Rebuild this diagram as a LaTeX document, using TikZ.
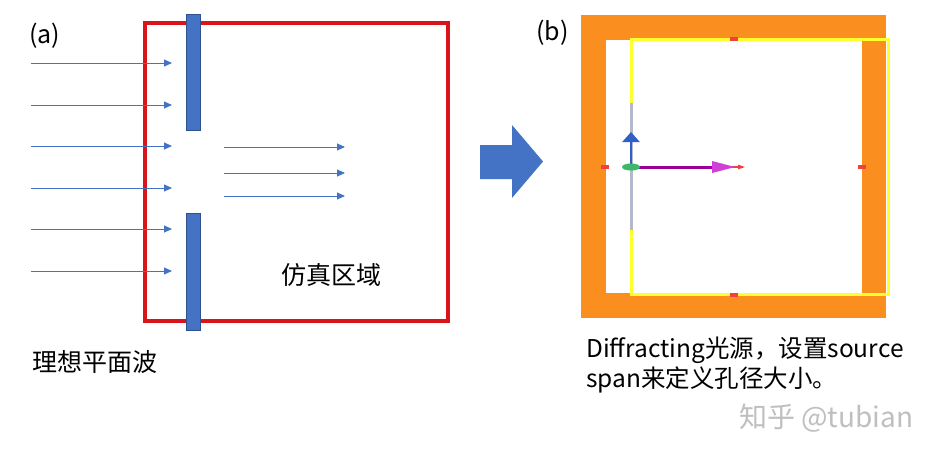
\documentclass[tikz,border=0pt]{standalone}
\usepackage{fontspec}
\setmainfont{Noto Sans CJK SC}
\usetikzlibrary{arrows.meta,shapes.geometric}
\definecolor{wblue}{HTML}{4472C4}
\definecolor{bardark}{HTML}{2F528F}
\definecolor{bred}{HTML}{D9141B}
\definecolor{orng}{HTML}{FA8E1E}
\definecolor{ylw}{HTML}{FFFF30}
\definecolor{gbar}{HTML}{B4B8CC}
\definecolor{pur}{HTML}{990099}
\definecolor{purh}{HTML}{D040D8}
\definecolor{ablue}{HTML}{2F5FC8}
\definecolor{grn}{HTML}{3CB86A}
\definecolor{mk}{HTML}{F04040}
\tikzset{
  wave/.style={wblue, line width=0.9pt, -{Triangle[length=8pt,width=7pt]}},
  slitbar/.style={fill=wblue, draw=bardark, line width=0.8pt},
  lbl/.style={inner sep=0pt, anchor=west, font=\fontsize{24.5}{29}\selectfont},
  tickmark/.style={fill=mk, draw=none, minimum width=8pt, minimum height=4pt, inner sep=0pt}
}
\begin{document}
\begin{tikzpicture}[x=1pt,y=-1pt]
\useasboundingbox[fill=white] (0,0) rectangle (938,456);

% ---------- panel (a) ----------
\node[lbl, font=\fontsize{25}{29}\selectfont] (la) at (29,36) {(a)};
\draw[bred, line width=3.5pt] (145,23) rectangle (448,321);
\node[slitbar, minimum width=14pt, minimum height=116pt, inner sep=0pt] (bartop) at (193,72) {};
\node[slitbar, minimum width=14pt, minimum height=117pt, inner sep=0pt] (barbot) at (193,271.5) {};
\foreach \y [count=\i] in {63,105,146,188,229,271} {
  \coordinate (s\i) at (31,\y);
  \coordinate (e\i) at (172,\y);
  \draw[wave] (s\i) -- (e\i);
}
\foreach \y [count=\i] in {147,173,196} {
  \coordinate (o\i) at (224,\y);
  \coordinate (p\i) at (345,\y);
  \draw[wave] (o\i) -- (p\i);
}
\node[lbl, font=\fontsize{25}{29}\selectfont] (sim) at (281,275) {仿真区域};
\node[lbl, font=\fontsize{25}{29}\selectfont] (pw) at (32,362) {理想平面波};

% ---------- big arrow ----------
\fill[wblue] (480,145) -- (512,145) -- (512,125) -- (543,161.5) -- (512,198) -- (512,179) -- (480,179) -- cycle;

% ---------- panel (b) ----------
\node[lbl, font=\fontsize{25}{29}\selectfont] (lb) at (536,33) {(b)};
\fill[orng] (581,15) rectangle (886,318);
\fill[white] (606,40) rectangle (862,293);
\draw[ylw, line width=3pt] (631,39) rectangle (888,294);
\coordinate (g1) at (631,103);
\coordinate (g2) at (631,230);
\draw[gbar, line width=3pt] (g1) -- (g2);
\coordinate (org) at (631,167);
\coordinate (up) at (631,132);
\coordinate (rt) at (735,167);
\coordinate (rt2) at (746,167);
\draw[ablue, line width=2.5pt, -{Triangle[length=10pt,width=17pt]}] (org) -- (up);
\draw[mk, line width=2pt, -{Triangle[length=8pt,width=4pt]}] (725,167) -- (rt2);
\draw[pur, line width=3pt] (org) -- (713,167);
\fill[purh] (712,161) -- (rt) -- (712,173) -- cycle;
\node[fill=grn, ellipse, minimum width=18pt, minimum height=7pt, inner sep=0pt] (src) at (org) {};
\node[tickmark] (m1) at (734,39) {};
\node[tickmark] (m2) at (734,295) {};
\node[tickmark] (m3) at (605,167) {};
\node[tickmark] (m4) at (862,167) {};

\node[lbl] (t1) at (586,350) {Diffracting光源，设置source};
\node[lbl] (t2) at (586,380) {span来定义孔径大小。};
\node[lbl, text=black!25, font=\fontsize{28}{32}\selectfont] (wm) at (739,418) {知乎 @tubian};
\end{tikzpicture}
\end{document}
